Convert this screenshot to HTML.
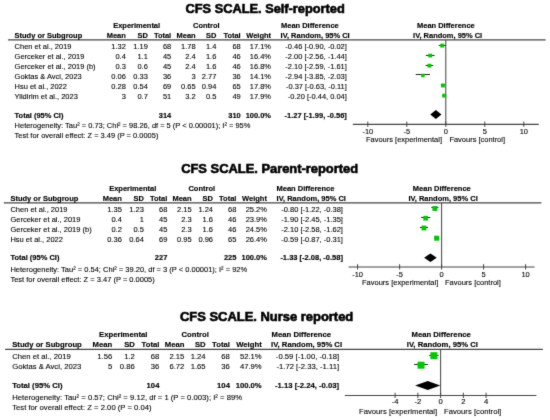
<!DOCTYPE html>
<html><head><meta charset="utf-8"><title>CFS SCALE forest plots</title>
<style>
html,body{margin:0;padding:0;background:#fff;}
body{width:550px;height:420px;position:relative;overflow:hidden;font-family:"Liberation Sans",sans-serif;}
.t{position:absolute;white-space:nowrap;-webkit-text-stroke:0.1px currentColor;}
.b{-webkit-text-stroke:0.15px currentColor;}
.r{position:absolute;}
svg{position:absolute;left:0;top:0;}
#wrap{position:absolute;left:0;top:0;width:550px;height:420px;will-change:transform;filter:url(#soft);background:#fff;}
</style></head><body>
<svg width="0" height="0" style="position:absolute"><filter id="soft" x="0" y="0" width="1" height="1" color-interpolation-filters="sRGB"><feConvolveMatrix order="3" kernelMatrix="0.0113 0.0838 0.0113 0.0838 0.6193 0.0838 0.0113 0.0838 0.0113" edgeMode="duplicate"/></filter></svg>
<div id="wrap">
<svg width="550" height="420" viewBox="0 0 550 420">
<line x1="8.00" y1="39.90" x2="545.60" y2="39.90" stroke="#444" stroke-width="1.15"/>
<line x1="445.80" y1="39.90" x2="445.80" y2="124.40" stroke="#484848" stroke-width="1.05"/>
<line x1="352.80" y1="124.40" x2="538.80" y2="124.40" stroke="#444" stroke-width="1.1"/>
<line x1="367.80" y1="121.60" x2="367.80" y2="126.90" stroke="#444" stroke-width="1.0"/>
<line x1="406.80" y1="121.60" x2="406.80" y2="126.90" stroke="#444" stroke-width="1.0"/>
<line x1="445.80" y1="121.60" x2="445.80" y2="126.90" stroke="#444" stroke-width="1.0"/>
<line x1="484.80" y1="121.60" x2="484.80" y2="126.90" stroke="#444" stroke-width="1.0"/>
<line x1="523.80" y1="121.60" x2="523.80" y2="126.90" stroke="#444" stroke-width="1.0"/>
<line x1="438.78" y1="45.50" x2="445.64" y2="45.50" stroke="#262626" stroke-width="1.0"/>
<rect x="440.26" y="43.65" width="3.90" height="3.90" fill="#00c800"/>
<line x1="425.83" y1="55.50" x2="434.57" y2="55.50" stroke="#262626" stroke-width="1.0"/>
<rect x="428.30" y="53.70" width="3.80" height="3.80" fill="#00c800"/>
<line x1="425.60" y1="65.50" x2="433.24" y2="65.50" stroke="#262626" stroke-width="1.0"/>
<rect x="427.52" y="63.80" width="3.80" height="3.80" fill="#00c800"/>
<line x1="415.77" y1="74.50" x2="429.97" y2="74.50" stroke="#262626" stroke-width="1.0"/>
<rect x="421.12" y="73.75" width="3.50" height="3.50" fill="#00c800"/>
<line x1="440.89" y1="84.50" x2="444.94" y2="84.50" stroke="#262626" stroke-width="1.0"/>
<rect x="440.96" y="83.55" width="3.90" height="3.90" fill="#00c800"/>
<line x1="442.37" y1="95.50" x2="446.11" y2="95.50" stroke="#262626" stroke-width="1.0"/>
<rect x="442.29" y="93.65" width="3.90" height="3.90" fill="#00c800"/>
<polygon points="430.28,114.50 435.89,110.10 441.43,114.50 435.89,118.90" fill="#000"/>
<line x1="3.80" y1="202.80" x2="541.40" y2="202.80" stroke="#444" stroke-width="1.15"/>
<line x1="441.60" y1="202.80" x2="441.60" y2="267.00" stroke="#484848" stroke-width="1.05"/>
<line x1="348.60" y1="267.00" x2="534.60" y2="267.00" stroke="#444" stroke-width="1.1"/>
<line x1="357.60" y1="264.20" x2="357.60" y2="269.50" stroke="#444" stroke-width="1.0"/>
<line x1="399.60" y1="264.20" x2="399.60" y2="269.50" stroke="#444" stroke-width="1.0"/>
<line x1="441.60" y1="264.20" x2="441.60" y2="269.50" stroke="#444" stroke-width="1.0"/>
<line x1="483.60" y1="264.20" x2="483.60" y2="269.50" stroke="#444" stroke-width="1.0"/>
<line x1="525.60" y1="264.20" x2="525.60" y2="269.50" stroke="#444" stroke-width="1.0"/>
<line x1="431.35" y1="207.50" x2="438.41" y2="207.50" stroke="#262626" stroke-width="1.0"/>
<rect x="432.43" y="206.05" width="4.90" height="4.90" fill="#00c800"/>
<line x1="421.02" y1="217.50" x2="430.26" y2="217.50" stroke="#262626" stroke-width="1.0"/>
<rect x="423.29" y="215.85" width="4.70" height="4.70" fill="#00c800"/>
<line x1="419.93" y1="227.50" x2="427.99" y2="227.50" stroke="#262626" stroke-width="1.0"/>
<rect x="421.56" y="225.60" width="4.80" height="4.80" fill="#00c800"/>
<line x1="434.29" y1="237.50" x2="439.00" y2="237.50" stroke="#262626" stroke-width="1.0"/>
<rect x="434.14" y="235.70" width="5.00" height="5.00" fill="#00c800"/>
<polygon points="424.13,257.70 430.43,253.40 436.73,257.70 430.43,262.00" fill="#000"/>
<line x1="5.10" y1="349.40" x2="542.90" y2="349.40" stroke="#444" stroke-width="1.15"/>
<line x1="440.60" y1="349.40" x2="440.60" y2="395.50" stroke="#484848" stroke-width="1.05"/>
<line x1="344.80" y1="395.50" x2="536.40" y2="395.50" stroke="#444" stroke-width="1.1"/>
<line x1="395.12" y1="392.70" x2="395.12" y2="398.00" stroke="#444" stroke-width="1.0"/>
<line x1="417.86" y1="392.70" x2="417.86" y2="398.00" stroke="#444" stroke-width="1.0"/>
<line x1="440.60" y1="392.70" x2="440.60" y2="398.00" stroke="#444" stroke-width="1.0"/>
<line x1="463.34" y1="392.70" x2="463.34" y2="398.00" stroke="#444" stroke-width="1.0"/>
<line x1="486.08" y1="392.70" x2="486.08" y2="398.00" stroke="#444" stroke-width="1.0"/>
<line x1="429.23" y1="355.50" x2="438.55" y2="355.50" stroke="#262626" stroke-width="1.0"/>
<rect x="430.39" y="352.20" width="7.00" height="7.00" fill="#00c800"/>
<line x1="414.11" y1="364.50" x2="427.98" y2="364.50" stroke="#262626" stroke-width="1.0"/>
<rect x="417.54" y="361.70" width="7.00" height="7.00" fill="#00c800"/>
<polygon points="415.13,385.50 427.75,381.00 440.26,385.50 427.75,390.00" fill="#000"/>
</svg>
<div class="t b" style="top:3.00px;font:bold 12.8px/12px 'Liberation Sans',sans-serif;color:#000;left:185.50px;-webkit-text-stroke:0.6px #000;">CFS SCALE. Self-reported</div>
<div class="t b" style="top:20.00px;font:bold 7.48px/12px 'Liberation Sans',sans-serif;color:#000;left:113.20px;">Experimental</div>
<div class="t b" style="top:20.00px;font:bold 7.48px/12px 'Liberation Sans',sans-serif;color:#000;left:193.00px;">Control</div>
<div class="t b" style="top:20.00px;font:bold 7.48px/12px 'Liberation Sans',sans-serif;color:#000;left:281.00px;">Mean Difference</div>
<div class="t b" style="top:20.00px;font:bold 7.48px/12px 'Liberation Sans',sans-serif;color:#000;left:417.00px;">Mean Difference</div>
<div class="t b" style="top:30.00px;font:bold 7.48px/12px 'Liberation Sans',sans-serif;color:#000;left:14.60px;">Study or Subgroup</div>
<div class="t b" style="top:30.00px;font:bold 7.48px/12px 'Liberation Sans',sans-serif;color:#000;right:424.20px;text-align:right;">Mean</div>
<div class="t b" style="top:30.00px;font:bold 7.48px/12px 'Liberation Sans',sans-serif;color:#000;right:402.20px;text-align:right;">SD</div>
<div class="t b" style="top:30.00px;font:bold 7.48px/12px 'Liberation Sans',sans-serif;color:#000;right:378.80px;text-align:right;">Total</div>
<div class="t b" style="top:30.00px;font:bold 7.48px/12px 'Liberation Sans',sans-serif;color:#000;right:354.40px;text-align:right;">Mean</div>
<div class="t b" style="top:30.00px;font:bold 7.48px/12px 'Liberation Sans',sans-serif;color:#000;right:333.70px;text-align:right;">SD</div>
<div class="t b" style="top:30.00px;font:bold 7.48px/12px 'Liberation Sans',sans-serif;color:#000;right:309.30px;text-align:right;">Total</div>
<div class="t b" style="top:30.00px;font:bold 7.48px/12px 'Liberation Sans',sans-serif;color:#000;right:279.00px;text-align:right;">Weight</div>
<div class="t b" style="top:30.00px;font:bold 7.48px/12px 'Liberation Sans',sans-serif;color:#000;left:280.60px;">IV, Random, 95% CI</div>
<div class="t b" style="top:30.00px;font:bold 7.48px/12px 'Liberation Sans',sans-serif;color:#000;left:413.10px;">IV, Random, 95% CI</div>
<div class="t" style="top:41.00px;font:7.48px/12px 'Liberation Sans',sans-serif;color:#000;left:14.60px;">Chen et al., 2019</div>
<div class="t" style="top:41.00px;font:7.48px/12px 'Liberation Sans',sans-serif;color:#000;right:424.20px;text-align:right;">1.32</div>
<div class="t" style="top:41.00px;font:7.48px/12px 'Liberation Sans',sans-serif;color:#000;right:402.20px;text-align:right;">1.19</div>
<div class="t" style="top:41.00px;font:7.48px/12px 'Liberation Sans',sans-serif;color:#000;right:378.80px;text-align:right;">68</div>
<div class="t" style="top:41.00px;font:7.48px/12px 'Liberation Sans',sans-serif;color:#000;right:354.40px;text-align:right;">1.78</div>
<div class="t" style="top:41.00px;font:7.48px/12px 'Liberation Sans',sans-serif;color:#000;right:333.70px;text-align:right;">1.4</div>
<div class="t" style="top:41.00px;font:7.48px/12px 'Liberation Sans',sans-serif;color:#000;right:309.30px;text-align:right;">68</div>
<div class="t" style="top:41.00px;font:7.48px/12px 'Liberation Sans',sans-serif;color:#000;right:279.00px;text-align:right;">17.1%</div>
<div class="t" style="top:41.00px;font:7.48px/12px 'Liberation Sans',sans-serif;color:#000;right:203.20px;text-align:right;">-0.46 [-0.90, -0.02]</div>
<div class="t" style="top:51.00px;font:7.48px/12px 'Liberation Sans',sans-serif;color:#000;left:14.60px;">Gerceker et al., 2019</div>
<div class="t" style="top:51.00px;font:7.48px/12px 'Liberation Sans',sans-serif;color:#000;right:424.20px;text-align:right;">0.4</div>
<div class="t" style="top:51.00px;font:7.48px/12px 'Liberation Sans',sans-serif;color:#000;right:402.20px;text-align:right;">1.1</div>
<div class="t" style="top:51.00px;font:7.48px/12px 'Liberation Sans',sans-serif;color:#000;right:378.80px;text-align:right;">45</div>
<div class="t" style="top:51.00px;font:7.48px/12px 'Liberation Sans',sans-serif;color:#000;right:354.40px;text-align:right;">2.4</div>
<div class="t" style="top:51.00px;font:7.48px/12px 'Liberation Sans',sans-serif;color:#000;right:333.70px;text-align:right;">1.6</div>
<div class="t" style="top:51.00px;font:7.48px/12px 'Liberation Sans',sans-serif;color:#000;right:309.30px;text-align:right;">46</div>
<div class="t" style="top:51.00px;font:7.48px/12px 'Liberation Sans',sans-serif;color:#000;right:279.00px;text-align:right;">16.4%</div>
<div class="t" style="top:51.00px;font:7.48px/12px 'Liberation Sans',sans-serif;color:#000;right:203.20px;text-align:right;">-2.00 [-2.56, -1.44]</div>
<div class="t" style="top:61.00px;font:7.48px/12px 'Liberation Sans',sans-serif;color:#000;left:14.60px;">Gerceker et al., 2019 (b)</div>
<div class="t" style="top:61.00px;font:7.48px/12px 'Liberation Sans',sans-serif;color:#000;right:424.20px;text-align:right;">0.3</div>
<div class="t" style="top:61.00px;font:7.48px/12px 'Liberation Sans',sans-serif;color:#000;right:402.20px;text-align:right;">0.6</div>
<div class="t" style="top:61.00px;font:7.48px/12px 'Liberation Sans',sans-serif;color:#000;right:378.80px;text-align:right;">45</div>
<div class="t" style="top:61.00px;font:7.48px/12px 'Liberation Sans',sans-serif;color:#000;right:354.40px;text-align:right;">2.4</div>
<div class="t" style="top:61.00px;font:7.48px/12px 'Liberation Sans',sans-serif;color:#000;right:333.70px;text-align:right;">1.6</div>
<div class="t" style="top:61.00px;font:7.48px/12px 'Liberation Sans',sans-serif;color:#000;right:309.30px;text-align:right;">46</div>
<div class="t" style="top:61.00px;font:7.48px/12px 'Liberation Sans',sans-serif;color:#000;right:279.00px;text-align:right;">16.8%</div>
<div class="t" style="top:61.00px;font:7.48px/12px 'Liberation Sans',sans-serif;color:#000;right:203.20px;text-align:right;">-2.10 [-2.59, -1.61]</div>
<div class="t" style="top:71.00px;font:7.48px/12px 'Liberation Sans',sans-serif;color:#000;left:14.60px;">Goktas &amp; Avci, 2023</div>
<div class="t" style="top:71.00px;font:7.48px/12px 'Liberation Sans',sans-serif;color:#000;right:424.20px;text-align:right;">0.06</div>
<div class="t" style="top:71.00px;font:7.48px/12px 'Liberation Sans',sans-serif;color:#000;right:402.20px;text-align:right;">0.33</div>
<div class="t" style="top:71.00px;font:7.48px/12px 'Liberation Sans',sans-serif;color:#000;right:378.80px;text-align:right;">36</div>
<div class="t" style="top:71.00px;font:7.48px/12px 'Liberation Sans',sans-serif;color:#000;right:354.40px;text-align:right;">3</div>
<div class="t" style="top:71.00px;font:7.48px/12px 'Liberation Sans',sans-serif;color:#000;right:333.70px;text-align:right;">2.77</div>
<div class="t" style="top:71.00px;font:7.48px/12px 'Liberation Sans',sans-serif;color:#000;right:309.30px;text-align:right;">36</div>
<div class="t" style="top:71.00px;font:7.48px/12px 'Liberation Sans',sans-serif;color:#000;right:279.00px;text-align:right;">14.1%</div>
<div class="t" style="top:71.00px;font:7.48px/12px 'Liberation Sans',sans-serif;color:#000;right:203.20px;text-align:right;">-2.94 [-3.85, -2.03]</div>
<div class="t" style="top:81.00px;font:7.48px/12px 'Liberation Sans',sans-serif;color:#000;left:14.60px;">Hsu et al., 2022</div>
<div class="t" style="top:81.00px;font:7.48px/12px 'Liberation Sans',sans-serif;color:#000;right:424.20px;text-align:right;">0.28</div>
<div class="t" style="top:81.00px;font:7.48px/12px 'Liberation Sans',sans-serif;color:#000;right:402.20px;text-align:right;">0.54</div>
<div class="t" style="top:81.00px;font:7.48px/12px 'Liberation Sans',sans-serif;color:#000;right:378.80px;text-align:right;">69</div>
<div class="t" style="top:81.00px;font:7.48px/12px 'Liberation Sans',sans-serif;color:#000;right:354.40px;text-align:right;">0.65</div>
<div class="t" style="top:81.00px;font:7.48px/12px 'Liberation Sans',sans-serif;color:#000;right:333.70px;text-align:right;">0.94</div>
<div class="t" style="top:81.00px;font:7.48px/12px 'Liberation Sans',sans-serif;color:#000;right:309.30px;text-align:right;">65</div>
<div class="t" style="top:81.00px;font:7.48px/12px 'Liberation Sans',sans-serif;color:#000;right:279.00px;text-align:right;">17.8%</div>
<div class="t" style="top:81.00px;font:7.48px/12px 'Liberation Sans',sans-serif;color:#000;right:203.20px;text-align:right;">-0.37 [-0.63, -0.11]</div>
<div class="t" style="top:91.00px;font:7.48px/12px 'Liberation Sans',sans-serif;color:#000;left:14.60px;">Yildirim et al., 2023</div>
<div class="t" style="top:91.00px;font:7.48px/12px 'Liberation Sans',sans-serif;color:#000;right:424.20px;text-align:right;">3</div>
<div class="t" style="top:91.00px;font:7.48px/12px 'Liberation Sans',sans-serif;color:#000;right:402.20px;text-align:right;">0.7</div>
<div class="t" style="top:91.00px;font:7.48px/12px 'Liberation Sans',sans-serif;color:#000;right:378.80px;text-align:right;">51</div>
<div class="t" style="top:91.00px;font:7.48px/12px 'Liberation Sans',sans-serif;color:#000;right:354.40px;text-align:right;">3.2</div>
<div class="t" style="top:91.00px;font:7.48px/12px 'Liberation Sans',sans-serif;color:#000;right:333.70px;text-align:right;">0.5</div>
<div class="t" style="top:91.00px;font:7.48px/12px 'Liberation Sans',sans-serif;color:#000;right:309.30px;text-align:right;">49</div>
<div class="t" style="top:91.00px;font:7.48px/12px 'Liberation Sans',sans-serif;color:#000;right:279.00px;text-align:right;">17.9%</div>
<div class="t" style="top:91.00px;font:7.48px/12px 'Liberation Sans',sans-serif;color:#000;right:203.20px;text-align:right;">-0.20 [-0.44, 0.04]</div>
<div class="t b" style="top:110.00px;font:bold 7.48px/12px 'Liberation Sans',sans-serif;color:#000;left:14.60px;">Total (95% CI)</div>
<div class="t b" style="top:110.00px;font:bold 7.48px/12px 'Liberation Sans',sans-serif;color:#000;right:378.80px;text-align:right;">314</div>
<div class="t b" style="top:110.00px;font:bold 7.48px/12px 'Liberation Sans',sans-serif;color:#000;right:309.30px;text-align:right;">310</div>
<div class="t b" style="top:110.00px;font:bold 7.48px/12px 'Liberation Sans',sans-serif;color:#000;right:279.00px;text-align:right;">100.0%</div>
<div class="t b" style="top:110.00px;font:bold 7.48px/12px 'Liberation Sans',sans-serif;color:#000;right:203.20px;text-align:right;">-1.27 [-1.99, -0.56]</div>
<div class="t" style="top:120.00px;font:7.48px/12px 'Liberation Sans',sans-serif;color:#000;left:14.60px;">Heterogeneity: Tau&sup2; = 0.73; Chi&sup2; = 98.26, df = 5 (P &lt; 0.00001); I&sup2; = 95%</div>
<div class="t" style="top:130.00px;font:7.48px/12px 'Liberation Sans',sans-serif;color:#000;left:14.60px;">Test for overall effect: Z = 3.49 (P = 0.0005)</div>
<div class="t" style="top:125.70px;font:7.48px/12px 'Liberation Sans',sans-serif;color:#000;left:217.80px;width:300px;text-align:center;">-10</div>
<div class="t" style="top:125.70px;font:7.48px/12px 'Liberation Sans',sans-serif;color:#000;left:256.80px;width:300px;text-align:center;">-5</div>
<div class="t" style="top:125.70px;font:7.48px/12px 'Liberation Sans',sans-serif;color:#000;left:295.80px;width:300px;text-align:center;">0</div>
<div class="t" style="top:125.70px;font:7.48px/12px 'Liberation Sans',sans-serif;color:#000;left:334.80px;width:300px;text-align:center;">5</div>
<div class="t" style="top:125.70px;font:7.48px/12px 'Liberation Sans',sans-serif;color:#000;left:373.80px;width:300px;text-align:center;">10</div>
<div class="t" style="top:134.30px;font:7.48px/12px 'Liberation Sans',sans-serif;color:#000;left:366.00px;">Favours [experimental]</div>
<div class="t" style="top:134.30px;font:7.48px/12px 'Liberation Sans',sans-serif;color:#000;left:449.40px;">Favours [control]</div>
<div class="t b" style="top:163.20px;font:bold 12.9px/12px 'Liberation Sans',sans-serif;color:#000;left:181.20px;-webkit-text-stroke:0.6px #000;">CFS SCALE. Parent-reported</div>
<div class="t b" style="top:183.00px;font:bold 7.5px/12px 'Liberation Sans',sans-serif;color:#000;left:109.20px;">Experimental</div>
<div class="t b" style="top:183.00px;font:bold 7.5px/12px 'Liberation Sans',sans-serif;color:#000;left:188.40px;">Control</div>
<div class="t b" style="top:183.00px;font:bold 7.5px/12px 'Liberation Sans',sans-serif;color:#000;left:276.50px;">Mean Difference</div>
<div class="t b" style="top:183.00px;font:bold 7.5px/12px 'Liberation Sans',sans-serif;color:#000;left:412.80px;">Mean Difference</div>
<div class="t b" style="top:193.00px;font:bold 7.5px/12px 'Liberation Sans',sans-serif;color:#000;left:10.40px;">Study or Subgroup</div>
<div class="t b" style="top:193.00px;font:bold 7.5px/12px 'Liberation Sans',sans-serif;color:#000;right:428.20px;text-align:right;">Mean</div>
<div class="t b" style="top:193.00px;font:bold 7.5px/12px 'Liberation Sans',sans-serif;color:#000;right:406.20px;text-align:right;">SD</div>
<div class="t b" style="top:193.00px;font:bold 7.5px/12px 'Liberation Sans',sans-serif;color:#000;right:382.70px;text-align:right;">Total</div>
<div class="t b" style="top:193.00px;font:bold 7.5px/12px 'Liberation Sans',sans-serif;color:#000;right:358.40px;text-align:right;">Mean</div>
<div class="t b" style="top:193.00px;font:bold 7.5px/12px 'Liberation Sans',sans-serif;color:#000;right:337.00px;text-align:right;">SD</div>
<div class="t b" style="top:193.00px;font:bold 7.5px/12px 'Liberation Sans',sans-serif;color:#000;right:313.60px;text-align:right;">Total</div>
<div class="t b" style="top:193.00px;font:bold 7.5px/12px 'Liberation Sans',sans-serif;color:#000;right:283.10px;text-align:right;">Weight</div>
<div class="t b" style="top:193.00px;font:bold 7.5px/12px 'Liberation Sans',sans-serif;color:#000;left:276.60px;">IV, Random, 95% CI</div>
<div class="t b" style="top:193.00px;font:bold 7.5px/12px 'Liberation Sans',sans-serif;color:#000;left:408.40px;">IV, Random, 95% CI</div>
<div class="t" style="top:204.00px;font:7.5px/12px 'Liberation Sans',sans-serif;color:#000;left:10.40px;">Chen et al., 2019</div>
<div class="t" style="top:204.00px;font:7.5px/12px 'Liberation Sans',sans-serif;color:#000;right:428.20px;text-align:right;">1.35</div>
<div class="t" style="top:204.00px;font:7.5px/12px 'Liberation Sans',sans-serif;color:#000;right:406.20px;text-align:right;">1.23</div>
<div class="t" style="top:204.00px;font:7.5px/12px 'Liberation Sans',sans-serif;color:#000;right:382.70px;text-align:right;">68</div>
<div class="t" style="top:204.00px;font:7.5px/12px 'Liberation Sans',sans-serif;color:#000;right:358.40px;text-align:right;">2.15</div>
<div class="t" style="top:204.00px;font:7.5px/12px 'Liberation Sans',sans-serif;color:#000;right:337.00px;text-align:right;">1.24</div>
<div class="t" style="top:204.00px;font:7.5px/12px 'Liberation Sans',sans-serif;color:#000;right:313.60px;text-align:right;">68</div>
<div class="t" style="top:204.00px;font:7.5px/12px 'Liberation Sans',sans-serif;color:#000;right:283.10px;text-align:right;">25.2%</div>
<div class="t" style="top:204.00px;font:7.5px/12px 'Liberation Sans',sans-serif;color:#000;right:207.10px;text-align:right;">-0.80 [-1.22, -0.38]</div>
<div class="t" style="top:214.00px;font:7.5px/12px 'Liberation Sans',sans-serif;color:#000;left:10.40px;">Gerceker et al., 2019</div>
<div class="t" style="top:214.00px;font:7.5px/12px 'Liberation Sans',sans-serif;color:#000;right:428.20px;text-align:right;">0.4</div>
<div class="t" style="top:214.00px;font:7.5px/12px 'Liberation Sans',sans-serif;color:#000;right:406.20px;text-align:right;">1</div>
<div class="t" style="top:214.00px;font:7.5px/12px 'Liberation Sans',sans-serif;color:#000;right:382.70px;text-align:right;">45</div>
<div class="t" style="top:214.00px;font:7.5px/12px 'Liberation Sans',sans-serif;color:#000;right:358.40px;text-align:right;">2.3</div>
<div class="t" style="top:214.00px;font:7.5px/12px 'Liberation Sans',sans-serif;color:#000;right:337.00px;text-align:right;">1.6</div>
<div class="t" style="top:214.00px;font:7.5px/12px 'Liberation Sans',sans-serif;color:#000;right:313.60px;text-align:right;">46</div>
<div class="t" style="top:214.00px;font:7.5px/12px 'Liberation Sans',sans-serif;color:#000;right:283.10px;text-align:right;">23.9%</div>
<div class="t" style="top:214.00px;font:7.5px/12px 'Liberation Sans',sans-serif;color:#000;right:207.10px;text-align:right;">-1.90 [-2.45, -1.35]</div>
<div class="t" style="top:224.00px;font:7.5px/12px 'Liberation Sans',sans-serif;color:#000;left:10.40px;">Gerceker et al., 2019 (b)</div>
<div class="t" style="top:224.00px;font:7.5px/12px 'Liberation Sans',sans-serif;color:#000;right:428.20px;text-align:right;">0.2</div>
<div class="t" style="top:224.00px;font:7.5px/12px 'Liberation Sans',sans-serif;color:#000;right:406.20px;text-align:right;">0.5</div>
<div class="t" style="top:224.00px;font:7.5px/12px 'Liberation Sans',sans-serif;color:#000;right:382.70px;text-align:right;">45</div>
<div class="t" style="top:224.00px;font:7.5px/12px 'Liberation Sans',sans-serif;color:#000;right:358.40px;text-align:right;">2.3</div>
<div class="t" style="top:224.00px;font:7.5px/12px 'Liberation Sans',sans-serif;color:#000;right:337.00px;text-align:right;">1.6</div>
<div class="t" style="top:224.00px;font:7.5px/12px 'Liberation Sans',sans-serif;color:#000;right:313.60px;text-align:right;">46</div>
<div class="t" style="top:224.00px;font:7.5px/12px 'Liberation Sans',sans-serif;color:#000;right:283.10px;text-align:right;">24.5%</div>
<div class="t" style="top:224.00px;font:7.5px/12px 'Liberation Sans',sans-serif;color:#000;right:207.10px;text-align:right;">-2.10 [-2.58, -1.62]</div>
<div class="t" style="top:234.00px;font:7.5px/12px 'Liberation Sans',sans-serif;color:#000;left:10.40px;">Hsu et al., 2022</div>
<div class="t" style="top:234.00px;font:7.5px/12px 'Liberation Sans',sans-serif;color:#000;right:428.20px;text-align:right;">0.36</div>
<div class="t" style="top:234.00px;font:7.5px/12px 'Liberation Sans',sans-serif;color:#000;right:406.20px;text-align:right;">0.64</div>
<div class="t" style="top:234.00px;font:7.5px/12px 'Liberation Sans',sans-serif;color:#000;right:382.70px;text-align:right;">69</div>
<div class="t" style="top:234.00px;font:7.5px/12px 'Liberation Sans',sans-serif;color:#000;right:358.40px;text-align:right;">0.95</div>
<div class="t" style="top:234.00px;font:7.5px/12px 'Liberation Sans',sans-serif;color:#000;right:337.00px;text-align:right;">0.96</div>
<div class="t" style="top:234.00px;font:7.5px/12px 'Liberation Sans',sans-serif;color:#000;right:313.60px;text-align:right;">65</div>
<div class="t" style="top:234.00px;font:7.5px/12px 'Liberation Sans',sans-serif;color:#000;right:283.10px;text-align:right;">26.4%</div>
<div class="t" style="top:234.00px;font:7.5px/12px 'Liberation Sans',sans-serif;color:#000;right:207.10px;text-align:right;">-0.59 [-0.87, -0.31]</div>
<div class="t b" style="top:252.00px;font:bold 7.5px/12px 'Liberation Sans',sans-serif;color:#000;left:10.40px;">Total (95% CI)</div>
<div class="t b" style="top:252.00px;font:bold 7.5px/12px 'Liberation Sans',sans-serif;color:#000;right:382.70px;text-align:right;">227</div>
<div class="t b" style="top:252.00px;font:bold 7.5px/12px 'Liberation Sans',sans-serif;color:#000;right:313.60px;text-align:right;">225</div>
<div class="t b" style="top:252.00px;font:bold 7.5px/12px 'Liberation Sans',sans-serif;color:#000;right:283.10px;text-align:right;">100.0%</div>
<div class="t b" style="top:252.00px;font:bold 7.5px/12px 'Liberation Sans',sans-serif;color:#000;right:207.10px;text-align:right;">-1.33 [-2.08, -0.58]</div>
<div class="t" style="top:264.00px;font:7.5px/12px 'Liberation Sans',sans-serif;color:#000;left:10.40px;">Heterogeneity: Tau&sup2; = 0.54; Chi&sup2; = 39.20, df = 3 (P &lt; 0.00001); I&sup2; = 92%</div>
<div class="t" style="top:274.00px;font:7.5px/12px 'Liberation Sans',sans-serif;color:#000;left:10.40px;">Test for overall effect: Z = 3.47 (P = 0.0005)</div>
<div class="t" style="top:268.50px;font:7.5px/12px 'Liberation Sans',sans-serif;color:#000;left:207.60px;width:300px;text-align:center;">-10</div>
<div class="t" style="top:268.50px;font:7.5px/12px 'Liberation Sans',sans-serif;color:#000;left:249.60px;width:300px;text-align:center;">-5</div>
<div class="t" style="top:268.50px;font:7.5px/12px 'Liberation Sans',sans-serif;color:#000;left:291.60px;width:300px;text-align:center;">0</div>
<div class="t" style="top:268.50px;font:7.5px/12px 'Liberation Sans',sans-serif;color:#000;left:333.60px;width:300px;text-align:center;">5</div>
<div class="t" style="top:268.50px;font:7.5px/12px 'Liberation Sans',sans-serif;color:#000;left:375.60px;width:300px;text-align:center;">10</div>
<div class="t" style="top:277.00px;font:7.5px/12px 'Liberation Sans',sans-serif;color:#000;left:362.00px;">Favours [experimental]</div>
<div class="t" style="top:277.00px;font:7.5px/12px 'Liberation Sans',sans-serif;color:#000;left:445.00px;">Favours [control]</div>
<div class="t b" style="top:311.20px;font:bold 12.95px/12px 'Liberation Sans',sans-serif;color:#000;left:180.00px;-webkit-text-stroke:0.6px #000;">CFS SCALE. Nurse reported</div>
<div class="t b" style="top:329.00px;font:bold 7.7px/12px 'Liberation Sans',sans-serif;color:#000;left:99.10px;">Experimental</div>
<div class="t b" style="top:329.00px;font:bold 7.7px/12px 'Liberation Sans',sans-serif;color:#000;left:181.50px;">Control</div>
<div class="t b" style="top:329.00px;font:bold 7.7px/12px 'Liberation Sans',sans-serif;color:#000;left:271.60px;">Mean Difference</div>
<div class="t b" style="top:329.00px;font:bold 7.7px/12px 'Liberation Sans',sans-serif;color:#000;left:411.50px;">Mean Difference</div>
<div class="t b" style="top:339.00px;font:bold 7.7px/12px 'Liberation Sans',sans-serif;color:#000;left:12.20px;">Study or Subgroup</div>
<div class="t b" style="top:339.00px;font:bold 7.7px/12px 'Liberation Sans',sans-serif;color:#000;right:437.80px;text-align:right;">Mean</div>
<div class="t b" style="top:339.00px;font:bold 7.7px/12px 'Liberation Sans',sans-serif;color:#000;right:415.20px;text-align:right;">SD</div>
<div class="t b" style="top:339.00px;font:bold 7.7px/12px 'Liberation Sans',sans-serif;color:#000;right:390.60px;text-align:right;">Total</div>
<div class="t b" style="top:339.00px;font:bold 7.7px/12px 'Liberation Sans',sans-serif;color:#000;right:365.60px;text-align:right;">Mean</div>
<div class="t b" style="top:339.00px;font:bold 7.7px/12px 'Liberation Sans',sans-serif;color:#000;right:344.40px;text-align:right;">SD</div>
<div class="t b" style="top:339.00px;font:bold 7.7px/12px 'Liberation Sans',sans-serif;color:#000;right:320.10px;text-align:right;">Total</div>
<div class="t b" style="top:339.00px;font:bold 7.7px/12px 'Liberation Sans',sans-serif;color:#000;right:288.30px;text-align:right;">Weight</div>
<div class="t b" style="top:339.00px;font:bold 7.7px/12px 'Liberation Sans',sans-serif;color:#000;left:271.00px;">IV, Random, 95% CI</div>
<div class="t b" style="top:339.00px;font:bold 7.7px/12px 'Liberation Sans',sans-serif;color:#000;left:406.80px;">IV, Random, 95% CI</div>
<div class="t" style="top:351.00px;font:7.7px/12px 'Liberation Sans',sans-serif;color:#000;left:12.20px;">Chen et al., 2019</div>
<div class="t" style="top:351.00px;font:7.7px/12px 'Liberation Sans',sans-serif;color:#000;right:437.80px;text-align:right;">1.56</div>
<div class="t" style="top:351.00px;font:7.7px/12px 'Liberation Sans',sans-serif;color:#000;right:415.20px;text-align:right;">1.2</div>
<div class="t" style="top:351.00px;font:7.7px/12px 'Liberation Sans',sans-serif;color:#000;right:390.60px;text-align:right;">68</div>
<div class="t" style="top:351.00px;font:7.7px/12px 'Liberation Sans',sans-serif;color:#000;right:365.60px;text-align:right;">2.15</div>
<div class="t" style="top:351.00px;font:7.7px/12px 'Liberation Sans',sans-serif;color:#000;right:344.40px;text-align:right;">1.24</div>
<div class="t" style="top:351.00px;font:7.7px/12px 'Liberation Sans',sans-serif;color:#000;right:320.10px;text-align:right;">68</div>
<div class="t" style="top:351.00px;font:7.7px/12px 'Liberation Sans',sans-serif;color:#000;right:288.30px;text-align:right;">52.1%</div>
<div class="t" style="top:351.00px;font:7.7px/12px 'Liberation Sans',sans-serif;color:#000;right:210.90px;text-align:right;">-0.59 [-1.00, -0.18]</div>
<div class="t" style="top:361.00px;font:7.7px/12px 'Liberation Sans',sans-serif;color:#000;left:12.20px;">Goktas &amp; Avci, 2023</div>
<div class="t" style="top:361.00px;font:7.7px/12px 'Liberation Sans',sans-serif;color:#000;right:437.80px;text-align:right;">5</div>
<div class="t" style="top:361.00px;font:7.7px/12px 'Liberation Sans',sans-serif;color:#000;right:415.20px;text-align:right;">0.86</div>
<div class="t" style="top:361.00px;font:7.7px/12px 'Liberation Sans',sans-serif;color:#000;right:390.60px;text-align:right;">36</div>
<div class="t" style="top:361.00px;font:7.7px/12px 'Liberation Sans',sans-serif;color:#000;right:365.60px;text-align:right;">6.72</div>
<div class="t" style="top:361.00px;font:7.7px/12px 'Liberation Sans',sans-serif;color:#000;right:344.40px;text-align:right;">1.65</div>
<div class="t" style="top:361.00px;font:7.7px/12px 'Liberation Sans',sans-serif;color:#000;right:320.10px;text-align:right;">36</div>
<div class="t" style="top:361.00px;font:7.7px/12px 'Liberation Sans',sans-serif;color:#000;right:288.30px;text-align:right;">47.9%</div>
<div class="t" style="top:361.00px;font:7.7px/12px 'Liberation Sans',sans-serif;color:#000;right:210.90px;text-align:right;">-1.72 [-2.33, -1.11]</div>
<div class="t b" style="top:380.00px;font:bold 7.7px/12px 'Liberation Sans',sans-serif;color:#000;left:12.20px;">Total (95% CI)</div>
<div class="t b" style="top:380.00px;font:bold 7.7px/12px 'Liberation Sans',sans-serif;color:#000;right:390.60px;text-align:right;">104</div>
<div class="t b" style="top:380.00px;font:bold 7.7px/12px 'Liberation Sans',sans-serif;color:#000;right:320.10px;text-align:right;">104</div>
<div class="t b" style="top:380.00px;font:bold 7.7px/12px 'Liberation Sans',sans-serif;color:#000;right:288.30px;text-align:right;">100.0%</div>
<div class="t b" style="top:380.00px;font:bold 7.7px/12px 'Liberation Sans',sans-serif;color:#000;right:210.90px;text-align:right;">-1.13 [-2.24, -0.03]</div>
<div class="t" style="top:392.00px;font:7.7px/12px 'Liberation Sans',sans-serif;color:#000;left:12.20px;">Heterogeneity: Tau&sup2; = 0.57; Chi&sup2; = 9.12, df = 1 (P = 0.003); I&sup2; = 89%</div>
<div class="t" style="top:402.00px;font:7.7px/12px 'Liberation Sans',sans-serif;color:#000;left:12.20px;">Test for overall effect: Z = 2.00 (P = 0.04)</div>
<div class="t" style="top:396.20px;font:7.7px/12px 'Liberation Sans',sans-serif;color:#000;left:245.12px;width:300px;text-align:center;">-4</div>
<div class="t" style="top:396.20px;font:7.7px/12px 'Liberation Sans',sans-serif;color:#000;left:267.86px;width:300px;text-align:center;">-2</div>
<div class="t" style="top:396.20px;font:7.7px/12px 'Liberation Sans',sans-serif;color:#000;left:290.60px;width:300px;text-align:center;">0</div>
<div class="t" style="top:396.20px;font:7.7px/12px 'Liberation Sans',sans-serif;color:#000;left:313.34px;width:300px;text-align:center;">2</div>
<div class="t" style="top:396.20px;font:7.7px/12px 'Liberation Sans',sans-serif;color:#000;left:336.08px;width:300px;text-align:center;">4</div>
<div class="t" style="top:405.60px;font:7.7px/12px 'Liberation Sans',sans-serif;color:#000;left:359.00px;">Favours [experimental]</div>
<div class="t" style="top:405.60px;font:7.7px/12px 'Liberation Sans',sans-serif;color:#000;left:444.00px;">Favours [control]</div>
</div>
</body></html>
